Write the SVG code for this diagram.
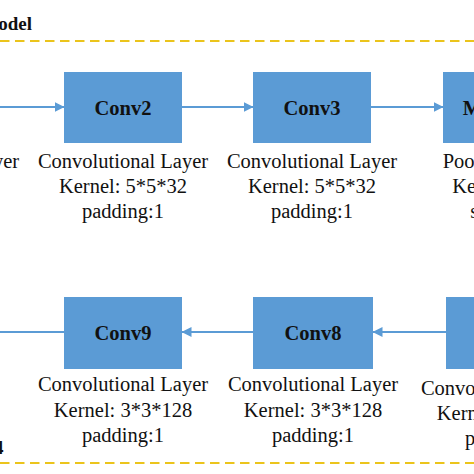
<svg xmlns="http://www.w3.org/2000/svg" width="474" height="474" viewBox="0 0 474 474">
<defs>
<style>
.box{fill:#5B9BD5;}
text{font-family:'Liberation Serif','DejaVu Serif',serif;fill:#111;}
.lbl{font-weight:bold;font-size:20.5px;text-anchor:middle;}
.desc{font-size:20.5px;text-anchor:middle;}
.title{font-weight:bold;font-size:19px;}
.dash{stroke:#EBC41C;stroke-width:2;stroke-dasharray:9.5 5.5;fill:none;}
.conn{stroke:#5B9BD5;stroke-width:2;fill:none;}
</style>
<marker id="ah" viewBox="0 0 10 10" refX="9.5" refY="5" markerWidth="5" markerHeight="5" orient="auto" markerUnits="strokeWidth">
<path d="M0,0 L10,5 L0,10 z" fill="#5B9BD5"/>
</marker>
</defs>
<rect width="474" height="474" fill="#fff"/>
<text class="title" x="32" y="30" text-anchor="end">Model</text>
<line class="dash" x1="0" y1="41" x2="474" y2="41"/>
<line class="dash" x1="0" y1="463" x2="474" y2="463"/>
<text class="title" x="-6" y="454">4</text>

<g id="connectors">
<line class="conn" x1="-7" y1="107" x2="64" y2="107" marker-end="url(#ah)"/>
<line class="conn" x1="182" y1="107" x2="253" y2="107" marker-end="url(#ah)"/>
<line class="conn" x1="371" y1="107" x2="443" y2="107" marker-end="url(#ah)"/>
<line class="conn" x1="446" y1="332" x2="373" y2="332" marker-end="url(#ah)"/>
<line class="conn" x1="253" y1="332" x2="182" y2="332" marker-end="url(#ah)"/>
<line class="conn" x1="64" y1="332" x2="-10" y2="332"/>
</g>

<g id="conv1">
<text class="desc" x="-66" y="168">Convolutional Layer</text>
</g>
<g id="conv2">
<rect class="box" x="64" y="72" width="118" height="71"/>
<text class="lbl" x="123" y="115">Conv2</text>
<text class="desc" x="123" y="168">Convolutional Layer</text>
<text class="desc" x="123" y="193">Kernel: 5*5*32</text>
<text class="desc" x="123" y="218">padding:1</text>
</g>
<g id="conv3">
<rect class="box" x="253" y="72" width="118" height="71"/>
<text class="lbl" x="312" y="115">Conv3</text>
<text class="desc" x="312" y="168">Convolutional Layer</text>
<text class="desc" x="312" y="193">Kernel: 5*5*32</text>
<text class="desc" x="312" y="218">padding:1</text>
</g>
<g id="maxpool">
<rect class="box" x="443" y="72" width="118" height="71"/>
<text class="lbl" x="502" y="115">MaxPool</text>
<text class="desc" x="501" y="168">Pooling Layer</text>
<text class="desc" x="501" y="193">Kernel: 2*2</text>
<text class="desc" x="501" y="218">stride:2</text>
</g>

<g id="conv9">
<rect class="box" x="64" y="297" width="118" height="72"/>
<text class="lbl" x="123" y="340">Conv9</text>
<text class="desc" x="123" y="391">Convolutional Layer</text>
<text class="desc" x="123" y="417">Kernel: 3*3*128</text>
<text class="desc" x="123" y="442">padding:1</text>
</g>
<g id="conv8">
<rect class="box" x="253" y="297" width="120" height="72"/>
<text class="lbl" x="313" y="340">Conv8</text>
<text class="desc" x="313" y="391">Convolutional Layer</text>
<text class="desc" x="313" y="417">Kernel: 3*3*128</text>
<text class="desc" x="313" y="442">padding:1</text>
</g>
<g id="conv7">
<rect class="box" x="446" y="297" width="118" height="72"/>
<text class="lbl" x="505" y="340">Conv7</text>
<text class="desc" x="506" y="395">Convolutional Layer</text>
<text class="desc" x="506" y="420">Kernel: 3*3*128</text>
<text class="desc" x="506" y="445">padding:1</text>
</g>
</svg>
